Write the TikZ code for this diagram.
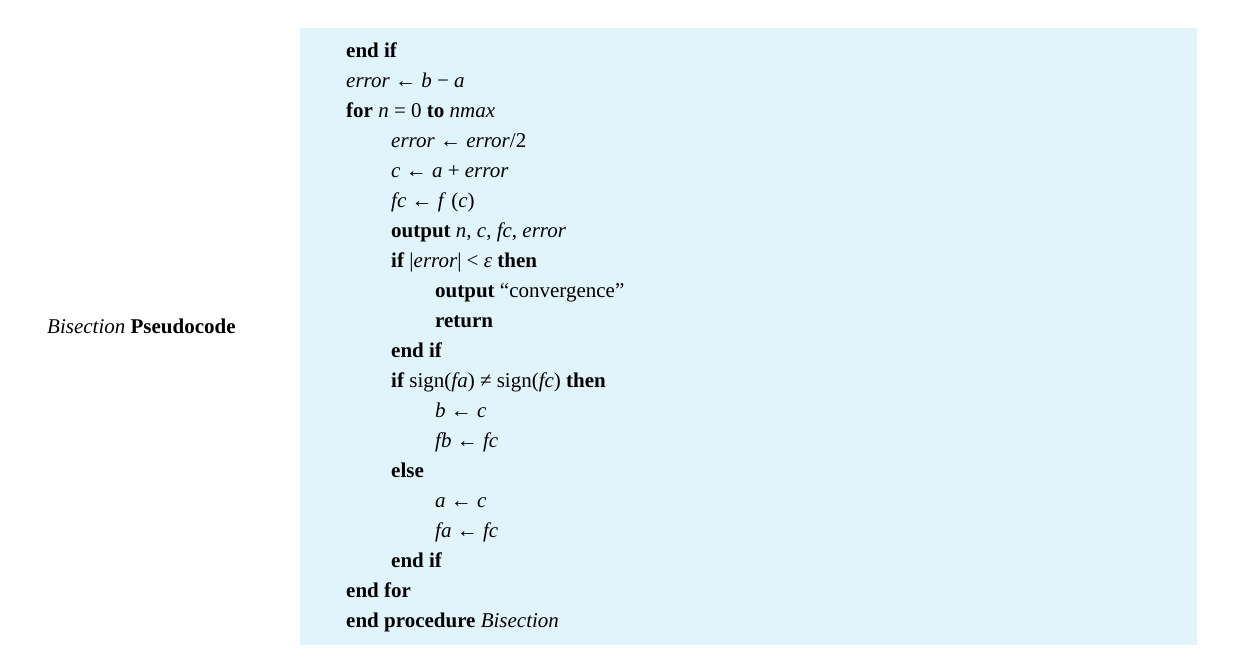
\documentclass[tikz,border=0pt]{standalone}
\usepackage{fontspec}
\setmainfont{Liberation Serif}
\definecolor{boxbg}{HTML}{E1F4FC}
\tikzset{ln/.style={anchor=base west,inner sep=0pt,font=\fontsize{21}{24}\selectfont}}
\newcommand{\kw}[1]{\textbf{#1}}
\newcommand{\iv}[1]{\textit{#1}}
\begin{document}
\begin{tikzpicture}[x=1pt,y=-1pt]
\useasboundingbox (0,0) rectangle (1234,664);
\fill[boxbg] (300,28) rectangle (1197,645);
\node[ln] (lab) at (47,333) {\iv{Bisection} \kw{Pseudocode}};
\def\a{346}\def\b{391}\def\c{435}
\node[ln] (l1) at (\a,57) {\kw{end if}};
\node[ln] (l2) at (\a,87) {\iv{error} ← \iv{b} − \iv{a}};
\node[ln] (l3) at (\a,117) {\kw{for} \iv{n} = 0 \kw{to} \iv{nmax}};
\node[ln] (l4) at (\b,147) {\iv{error} ← \iv{error}/2};
\node[ln] (l5) at (\b,177) {\iv{c} ← \iv{a} + \iv{error}};
\node[ln] (l6) at (\b,207) {\iv{fc} ← \iv{f} (\iv{c})};
\node[ln] (l7) at (\b,237) {\kw{output} \iv{n}, \iv{c}, \iv{fc}, \iv{error}};
\node[ln] (l8) at (\b,267) {\kw{if} |\iv{error}| < \iv{ε} \kw{then}};
\node[ln] (l9) at (\c,297) {\kw{output} “convergence”};
\node[ln] (l10) at (\c,327) {\kw{return}};
\node[ln] (l11) at (\b,357) {\kw{end if}};
\node[ln] (l12) at (\b,387) {\kw{if} sign(\iv{fa}) ≠ sign(\iv{fc}) \kw{then}};
\node[ln] (l13) at (\c,417) {\iv{b} ← \iv{c}};
\node[ln] (l14) at (\c,447) {\iv{fb} ← \iv{fc}};
\node[ln] (l15) at (\b,477) {\kw{else}};
\node[ln] (l16) at (\c,507) {\iv{a} ← \iv{c}};
\node[ln] (l17) at (\c,537) {\iv{fa} ← \iv{fc}};
\node[ln] (l18) at (\b,567) {\kw{end if}};
\node[ln] (l19) at (\a,597) {\kw{end for}};
\node[ln] (l20) at (\a,627) {\kw{end procedure} \iv{Bisection}};
\end{tikzpicture}
\end{document}
